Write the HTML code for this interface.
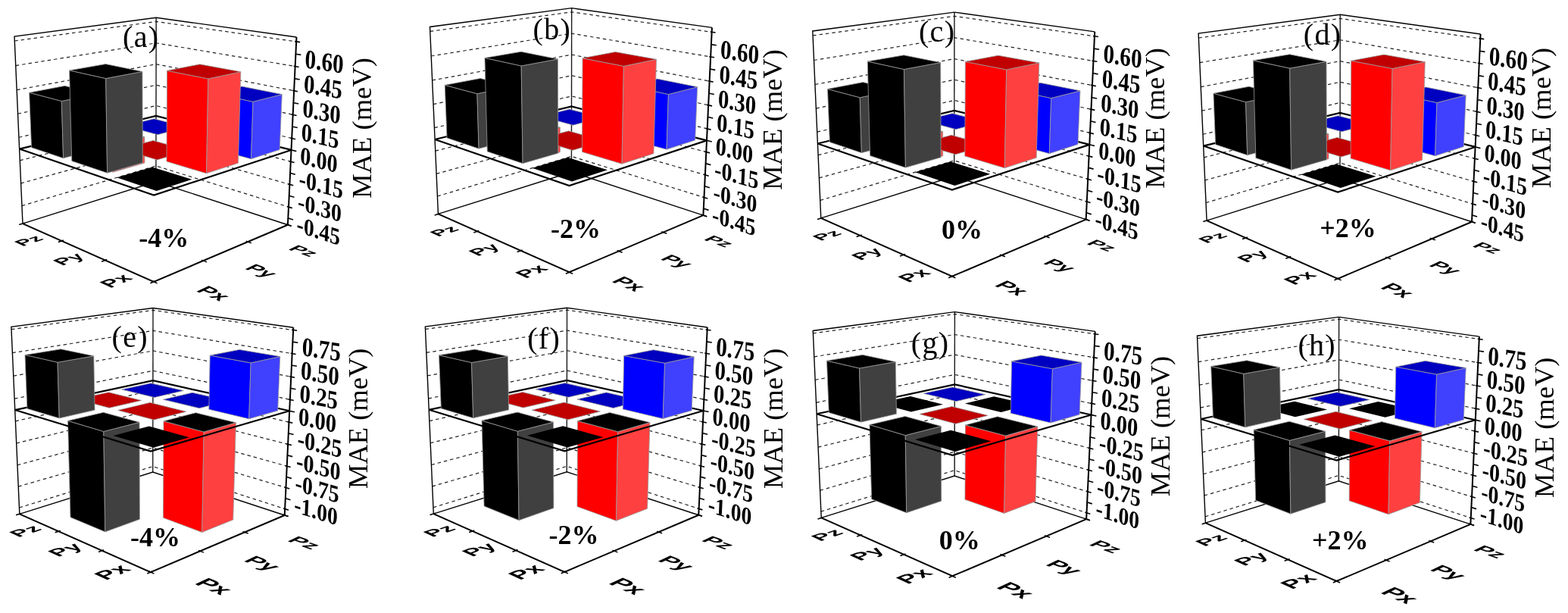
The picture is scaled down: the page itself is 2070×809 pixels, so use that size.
<!DOCTYPE html>
<html><head><meta charset="utf-8"><style>
    html,body{margin:0;padding:0;background:#fff;}
    svg{display:block}
    .g{fill:none;stroke:#222;stroke-width:1.2;stroke-dasharray:4.5 4}
    .w{fill:none;stroke:#000;stroke-width:1.4}
    .wb{fill:none;stroke:#1a1a1a;stroke-width:1.4}
    .z0{fill:none;stroke:#000;stroke-width:2.2;stroke-linejoin:miter}
    .ax{fill:none;stroke:#000;stroke-width:2;stroke-linejoin:miter}
    .tk{stroke:#000;stroke-width:1.6}
    .e{stroke:#9a9a9a;stroke-width:0.8;stroke-linejoin:round}
    .e0{stroke:none}
    text{font-family:"Liberation Serif","Times New Roman",serif;fill:#000}
    .zl{font-size:100px;font-weight:bold}
    .fl{font-family:"Liberation Sans",Arial,sans-serif;font-size:100px;font-weight:bold}
    .tag{font-size:40px;letter-spacing:1.3px}
    .pct{font-size:36px;font-weight:bold}
    .mae{font-size:36.5px}
    </style></head>
<body><svg width="2070" height="809" viewBox="0 0 2070 809">
<g><polyline class="g" points="28.94,271.56 205.92,218.97 381,273.14"/>
<polyline class="g" points="27.63,241.91 205.95,192.83 382.39,243.41"/>
<polyline class="g" points="26.29,211.8 205.99,166.35 383.79,213.21"/>
<polyline class="g" points="24.93,181.23 206.02,139.51 385.22,182.54"/>
<polyline class="g" points="23.55,150.17 206.06,112.3 386.67,151.39"/>
<polyline class="g" points="22.15,118.63 206.09,84.73 388.14,119.75"/>
<polyline class="g" points="20.73,86.58 206.13,56.77 389.64,87.6"/>
<polyline class="g" points="19.29,54.02 206.16,28.42 391.16,54.94"/>
<polyline class="w" points="29.98,295.05 19.02,48.08 206.17,23.26 391.44,48.98"/>
<polyline class="wb" points="205.89,239.71 206.17,23.26"/>
<polyline class="w" points="29.98,295.05 205.89,239.71 379.91,296.71"/>
<polyline class="z0" points="25.61,196.57 206,152.98 384.5,197.94"/>
<polyline class="ax" points="379.91,296.71 391.44,48.98"/>
<line class="tk" x1="379.84" y1="287.69" x2="386.99" y2="289.98"/>
<line class="tk" x1="381.21" y1="258.19" x2="388.4" y2="260.33"/>
<line class="tk" x1="382.61" y1="228.23" x2="389.84" y2="230.22"/>
<line class="tk" x1="384.02" y1="197.81" x2="391.29" y2="199.65"/>
<line class="tk" x1="385.45" y1="166.92" x2="392.77" y2="168.59"/>
<line class="tk" x1="386.91" y1="135.53" x2="394.26" y2="137.04"/>
<line class="tk" x1="388.39" y1="103.65" x2="395.78" y2="104.98"/>
<line class="tk" x1="389.9" y1="71.26" x2="397.31" y2="72.41"/>
<line class="tk" x1="379.09" y1="272.55" x2="385.78" y2="274.62"/>
<line class="tk" x1="380.47" y1="242.86" x2="387.19" y2="244.79"/>
<line class="tk" x1="381.86" y1="212.7" x2="388.63" y2="214.49"/>
<line class="tk" x1="383.28" y1="182.08" x2="390.08" y2="183.71"/>
<line class="tk" x1="384.71" y1="150.97" x2="391.56" y2="152.45"/>
<line class="tk" x1="386.18" y1="119.37" x2="393.05" y2="120.7"/>
<line class="tk" x1="387.67" y1="87.27" x2="394.57" y2="88.43"/>
<line class="tk" x1="389.18" y1="54.65" x2="396.11" y2="55.65"/>
<line class="tk" x1="378.01" y1="296.08" x2="384.66" y2="298.26"/>
<line class="tk" x1="205.3" y1="370.85" x2="198.39" y2="373.79"/>
<line class="tk" x1="141.2" y1="342.48" x2="134.19" y2="345.15"/>
<line class="tk" x1="83.9" y1="317.12" x2="76.81" y2="319.56"/>
<line class="tk" x1="32.37" y1="294.3" x2="25.21" y2="296.55"/>
<line class="tk" x1="200.71" y1="370.82" x2="207.57" y2="373.86"/>
<line class="tk" x1="266.12" y1="343.12" x2="273.09" y2="345.88"/>
<line class="tk" x1="324.72" y1="318.3" x2="331.78" y2="320.83"/>
<line class="tk" x1="377.53" y1="295.93" x2="384.66" y2="298.26"/>
<polygon class="e" fill="#0000C0" points="208.04,177.74 246.13,167.72 203.27,156.76 165.22,166.05"/>
<polygon class="e" fill="#FF0000" points="149.37,227.18 107.15,213.12 106.34,178.92 148.91,191.72"/>
<polygon class="e" fill="#FF4040" points="149.37,227.18 190.93,215.12 190.84,180.74 148.91,191.72"/>
<polygon class="e" fill="#000000" points="148.91,191.72 190.84,180.74 148.06,168.77 106.34,178.92"/>
<polygon class="e0" fill="#000000" points="266.6,193.72 304.6,182.67 257.5,170.63 219.4,180.84"/>
<polygon class="e" fill="#0000FF" points="331.5,209.78 279.19,195.57 280.63,122.95 334.01,134.26"/>
<polygon class="e" fill="#4040FF" points="331.5,209.78 369.19,197.59 372.3,124.57 334.01,134.26"/>
<polygon class="e" fill="#0000C0" points="334.01,134.26 372.3,124.57 319.22,114.04 280.63,122.95"/>
<polygon class="e" fill="#000000" points="83.57,208.81 41.54,194.67 38.62,122.2 81.33,133.45"/>
<polygon class="e" fill="#404040" points="83.57,208.81 129.94,196.68 128.63,123.81 81.33,133.45"/>
<polygon class="e" fill="#000000" points="81.33,133.45 128.63,123.81 85.49,113.33 38.62,122.2"/>
<polygon class="e" fill="#C00000" points="207.39,210.94 249.41,198.72 202.2,185.45 160.25,196.7"/>
<polygon class="e" fill="#000000" points="141.6,228.34 94.79,212.59 91.56,92.88 139.72,103.55"/>
<polygon class="e" fill="#404040" points="141.6,228.34 188.33,214.81 187.95,94.41 139.72,103.55"/>
<polygon class="e" fill="#000000" points="139.72,103.55 187.95,94.41 139.49,84.52 91.56,92.88"/>
<polygon class="e" fill="#FF0000" points="272.51,228.87 219.98,213.08 220.56,93.24 274.8,103.94"/>
<polygon class="e" fill="#FF4040" points="272.51,228.87 314.41,215.31 317.89,94.78 274.8,103.94"/>
<polygon class="e" fill="#C00000" points="274.8,103.94 317.89,94.78 263.8,84.86 220.56,93.24"/>
<polygon class="e0" fill="#000000" points="206.6,252.02 253.43,236.79 200.91,220.4 154.15,234.29"/>
<polyline class="z0" points="25.61,196.57 203.06,257.61 384.5,197.94"/>
<polyline class="ax" points="29.98,295.05 203,371.83 379.91,296.71"/>
<text class="fl" transform="matrix(0.2471 -0.0823 0.1822 0.0844 37.80 317.50)" x="0" y="34.5" text-anchor="middle">Pz</text>
<text class="fl" transform="matrix(0.2504 -0.0914 0.2024 0.0938 90.50 342.00)" x="0" y="34.5" text-anchor="middle">Py</text>
<text class="fl" transform="matrix(0.2526 -0.1027 0.2275 0.1053 153.00 370.50)" x="0" y="34.5" text-anchor="middle">Px</text>
<text class="fl" transform="matrix(0.2626 0.1123 -0.2338 0.1096 282.00 387.20)" x="0" y="34.5" text-anchor="middle">Px</text>
<text class="fl" transform="matrix(0.2604 0.0998 -0.2079 0.0974 345.10 357.30)" x="0" y="34.5" text-anchor="middle">Py</text>
<text class="fl" transform="matrix(0.2572 0.0895 -0.1864 0.0873 400.90 331.10)" x="0" y="34.5" text-anchor="middle">Pz</text>
<text class="zl" transform="matrix(0.2741 0.0879 -0.0157 0.3158 392.08 291.61)" x="0" y="45.0">-0.45</text>
<text class="zl" transform="matrix(0.2765 0.0824 -0.0159 0.3207 393.55 261.87)" x="0" y="45.0">-0.30</text>
<text class="zl" transform="matrix(0.2790 0.0767 -0.0162 0.3257 395.05 231.66)" x="0" y="45.0">-0.15</text>
<text class="zl" transform="matrix(0.2815 0.0709 -0.0164 0.3308 396.58 200.98)" x="0" y="45.0">0.00</text>
<text class="zl" transform="matrix(0.2840 0.0648 -0.0167 0.3361 398.12 169.81)" x="0" y="45.0">0.15</text>
<text class="zl" transform="matrix(0.2866 0.0586 -0.0169 0.3415 399.69 138.15)" x="0" y="45.0">0.30</text>
<text class="zl" transform="matrix(0.2893 0.0521 -0.0172 0.3470 401.29 105.98)" x="0" y="45.0">0.45</text>
<text class="zl" transform="matrix(0.2919 0.0455 -0.0175 0.3526 402.91 73.28)" x="0" y="45.0">0.60</text>
<text class="tag" x="162.1" y="62.3">(a)</text>
<text class="pct" x="183.3" y="326.2">-4%</text>
<text class="mae" transform="translate(489.6 261.7) rotate(-90)">MAE (meV)</text></g><g><polyline class="g" points="577.44,258.96 754.42,206.37 929.5,260.54"/>
<polyline class="g" points="576.13,229.31 754.45,180.23 930.89,230.81"/>
<polyline class="g" points="574.79,199.2 754.49,153.75 932.29,200.61"/>
<polyline class="g" points="573.43,168.63 754.52,126.91 933.72,169.94"/>
<polyline class="g" points="572.05,137.57 754.56,99.7 935.17,138.79"/>
<polyline class="g" points="570.65,106.03 754.59,72.13 936.64,107.15"/>
<polyline class="g" points="569.23,73.98 754.63,44.17 938.14,75"/>
<polyline class="g" points="567.79,41.42 754.66,15.82 939.66,42.34"/>
<polyline class="w" points="578.48,282.45 567.52,35.48 754.67,10.66 939.94,36.38"/>
<polyline class="wb" points="754.39,227.11 754.67,10.66"/>
<polyline class="w" points="578.48,282.45 754.39,227.11 928.41,284.11"/>
<polyline class="z0" points="574.11,183.97 754.5,140.38 933,185.34"/>
<polyline class="ax" points="928.41,284.11 939.94,36.38"/>
<line class="tk" x1="928.34" y1="275.09" x2="935.49" y2="277.38"/>
<line class="tk" x1="929.71" y1="245.59" x2="936.9" y2="247.73"/>
<line class="tk" x1="931.11" y1="215.63" x2="938.34" y2="217.62"/>
<line class="tk" x1="932.52" y1="185.21" x2="939.79" y2="187.05"/>
<line class="tk" x1="933.95" y1="154.32" x2="941.27" y2="155.99"/>
<line class="tk" x1="935.41" y1="122.93" x2="942.76" y2="124.44"/>
<line class="tk" x1="936.89" y1="91.05" x2="944.28" y2="92.38"/>
<line class="tk" x1="938.4" y1="58.66" x2="945.81" y2="59.81"/>
<line class="tk" x1="927.59" y1="259.95" x2="934.28" y2="262.02"/>
<line class="tk" x1="928.97" y1="230.26" x2="935.69" y2="232.19"/>
<line class="tk" x1="930.36" y1="200.1" x2="937.13" y2="201.89"/>
<line class="tk" x1="931.78" y1="169.48" x2="938.58" y2="171.11"/>
<line class="tk" x1="933.21" y1="138.37" x2="940.06" y2="139.85"/>
<line class="tk" x1="934.68" y1="106.77" x2="941.55" y2="108.1"/>
<line class="tk" x1="936.17" y1="74.67" x2="943.07" y2="75.83"/>
<line class="tk" x1="937.68" y1="42.05" x2="944.61" y2="43.05"/>
<line class="tk" x1="926.51" y1="283.48" x2="933.16" y2="285.66"/>
<line class="tk" x1="753.8" y1="358.25" x2="746.89" y2="361.19"/>
<line class="tk" x1="689.7" y1="329.88" x2="682.69" y2="332.55"/>
<line class="tk" x1="632.4" y1="304.52" x2="625.31" y2="306.96"/>
<line class="tk" x1="580.87" y1="281.7" x2="573.71" y2="283.95"/>
<line class="tk" x1="749.21" y1="358.22" x2="756.07" y2="361.26"/>
<line class="tk" x1="814.62" y1="330.52" x2="821.59" y2="333.28"/>
<line class="tk" x1="873.22" y1="305.7" x2="880.28" y2="308.23"/>
<line class="tk" x1="926.03" y1="283.33" x2="933.16" y2="285.66"/>
<polygon class="e" fill="#0000C0" points="756.54,165.14 794.63,155.12 751.77,144.16 713.72,153.45"/>
<polygon class="e" fill="#FF0000" points="697.85,212.8 655.61,198.81 654.84,166.32 697.41,179.12"/>
<polygon class="e" fill="#FF4040" points="697.85,212.8 739.42,200.8 739.34,168.14 697.41,179.12"/>
<polygon class="e" fill="#000000" points="697.41,179.12 739.34,168.14 696.56,156.17 654.84,166.32"/>
<polygon class="e0" fill="#000000" points="815.1,181.12 853.1,170.07 806,158.03 767.9,168.24"/>
<polygon class="e" fill="#0000FF" points="880,197.18 827.69,182.97 829.08,113.09 882.42,124.51"/>
<polygon class="e" fill="#4040FF" points="880,197.18 917.69,184.99 920.68,114.72 882.42,124.51"/>
<polygon class="e" fill="#0000C0" points="882.42,124.51 920.68,114.72 867.65,104.09 829.08,113.09"/>
<polygon class="e" fill="#000000" points="632.07,196.21 590.04,182.07 587.23,112.33 629.91,123.69"/>
<polygon class="e" fill="#404040" points="632.07,196.21 678.44,184.08 677.18,113.96 629.91,123.69"/>
<polygon class="e" fill="#000000" points="629.91,123.69 677.18,113.96 634.06,103.38 587.23,112.33"/>
<polygon class="e" fill="#C00000" points="755.89,198.34 797.91,186.12 750.7,172.85 708.75,184.1"/>
<polygon class="e" fill="#000000" points="690.1,215.74 643.29,199.99 639.96,76.43 688.16,86.94"/>
<polygon class="e" fill="#404040" points="690.1,215.74 736.83,202.21 736.43,77.94 688.16,86.94"/>
<polygon class="e" fill="#000000" points="688.16,86.94 736.43,77.94 687.94,68.21 639.96,76.43"/>
<polygon class="e" fill="#FF0000" points="821.01,216.27 768.48,200.48 769.08,76.79 823.37,87.33"/>
<polygon class="e" fill="#FF4040" points="821.01,216.27 862.91,202.71 866.51,78.3 823.37,87.33"/>
<polygon class="e" fill="#C00000" points="823.37,87.33 866.51,78.3 812.36,68.55 769.08,76.79"/>
<polygon class="e0" fill="#000000" points="755.1,239.42 801.93,224.19 749.41,207.8 702.65,221.69"/>
<polyline class="z0" points="574.11,183.97 751.56,245.01 933,185.34"/>
<polyline class="ax" points="578.48,282.45 751.5,359.23 928.41,284.11"/>
<text class="fl" transform="matrix(0.2471 -0.0823 0.1822 0.0844 586.30 304.90)" x="0" y="34.5" text-anchor="middle">Pz</text>
<text class="fl" transform="matrix(0.2504 -0.0914 0.2024 0.0938 639.00 329.40)" x="0" y="34.5" text-anchor="middle">Py</text>
<text class="fl" transform="matrix(0.2526 -0.1027 0.2275 0.1053 701.50 357.90)" x="0" y="34.5" text-anchor="middle">Px</text>
<text class="fl" transform="matrix(0.2626 0.1123 -0.2338 0.1096 830.50 374.60)" x="0" y="34.5" text-anchor="middle">Px</text>
<text class="fl" transform="matrix(0.2604 0.0998 -0.2079 0.0974 893.60 344.70)" x="0" y="34.5" text-anchor="middle">Py</text>
<text class="fl" transform="matrix(0.2572 0.0895 -0.1864 0.0873 949.40 318.50)" x="0" y="34.5" text-anchor="middle">Pz</text>
<text class="zl" transform="matrix(0.2741 0.0879 -0.0157 0.3158 940.58 279.01)" x="0" y="45.0">-0.45</text>
<text class="zl" transform="matrix(0.2765 0.0824 -0.0159 0.3207 942.05 249.27)" x="0" y="45.0">-0.30</text>
<text class="zl" transform="matrix(0.2790 0.0767 -0.0162 0.3257 943.55 219.06)" x="0" y="45.0">-0.15</text>
<text class="zl" transform="matrix(0.2815 0.0709 -0.0164 0.3308 945.08 188.38)" x="0" y="45.0">0.00</text>
<text class="zl" transform="matrix(0.2840 0.0648 -0.0167 0.3361 946.62 157.21)" x="0" y="45.0">0.15</text>
<text class="zl" transform="matrix(0.2866 0.0586 -0.0169 0.3415 948.19 125.55)" x="0" y="45.0">0.30</text>
<text class="zl" transform="matrix(0.2893 0.0521 -0.0172 0.3470 949.79 93.38)" x="0" y="45.0">0.45</text>
<text class="zl" transform="matrix(0.2919 0.0455 -0.0175 0.3526 951.41 60.68)" x="0" y="45.0">0.60</text>
<text class="tag" x="703.6" y="52.1">(b)</text>
<text class="pct" x="727.0" y="314.4">-2%</text>
<text class="mae" transform="translate(1031.8 250.7) rotate(-90)">MAE (meV)</text></g><g><polyline class="g" points="1082.74,264.46 1259.72,211.87 1434.8,266.04"/>
<polyline class="g" points="1081.43,234.81 1259.75,185.73 1436.19,236.31"/>
<polyline class="g" points="1080.09,204.7 1259.79,159.25 1437.59,206.11"/>
<polyline class="g" points="1078.73,174.13 1259.82,132.41 1439.02,175.44"/>
<polyline class="g" points="1077.35,143.07 1259.86,105.2 1440.47,144.29"/>
<polyline class="g" points="1075.95,111.53 1259.89,77.63 1441.94,112.65"/>
<polyline class="g" points="1074.53,79.48 1259.93,49.67 1443.44,80.5"/>
<polyline class="g" points="1073.09,46.92 1259.96,21.32 1444.96,47.84"/>
<polyline class="w" points="1083.78,287.95 1072.82,40.98 1259.97,16.16 1445.24,41.88"/>
<polyline class="wb" points="1259.69,232.61 1259.97,16.16"/>
<polyline class="w" points="1083.78,287.95 1259.69,232.61 1433.71,289.61"/>
<polyline class="z0" points="1079.41,189.47 1259.8,145.88 1438.3,190.84"/>
<polyline class="ax" points="1433.71,289.61 1445.24,41.88"/>
<line class="tk" x1="1433.64" y1="280.59" x2="1440.79" y2="282.88"/>
<line class="tk" x1="1435.01" y1="251.09" x2="1442.2" y2="253.23"/>
<line class="tk" x1="1436.41" y1="221.13" x2="1443.64" y2="223.12"/>
<line class="tk" x1="1437.82" y1="190.71" x2="1445.09" y2="192.55"/>
<line class="tk" x1="1439.25" y1="159.82" x2="1446.57" y2="161.49"/>
<line class="tk" x1="1440.71" y1="128.43" x2="1448.06" y2="129.94"/>
<line class="tk" x1="1442.19" y1="96.55" x2="1449.58" y2="97.88"/>
<line class="tk" x1="1443.7" y1="64.16" x2="1451.11" y2="65.31"/>
<line class="tk" x1="1432.89" y1="265.45" x2="1439.58" y2="267.52"/>
<line class="tk" x1="1434.27" y1="235.76" x2="1440.99" y2="237.69"/>
<line class="tk" x1="1435.66" y1="205.6" x2="1442.43" y2="207.39"/>
<line class="tk" x1="1437.08" y1="174.98" x2="1443.88" y2="176.61"/>
<line class="tk" x1="1438.51" y1="143.87" x2="1445.36" y2="145.35"/>
<line class="tk" x1="1439.98" y1="112.27" x2="1446.85" y2="113.6"/>
<line class="tk" x1="1441.47" y1="80.17" x2="1448.37" y2="81.33"/>
<line class="tk" x1="1442.98" y1="47.55" x2="1449.91" y2="48.55"/>
<line class="tk" x1="1431.81" y1="288.98" x2="1438.46" y2="291.16"/>
<line class="tk" x1="1259.1" y1="363.75" x2="1252.19" y2="366.69"/>
<line class="tk" x1="1195" y1="335.38" x2="1187.99" y2="338.05"/>
<line class="tk" x1="1137.7" y1="310.02" x2="1130.61" y2="312.46"/>
<line class="tk" x1="1086.17" y1="287.2" x2="1079.01" y2="289.45"/>
<line class="tk" x1="1254.51" y1="363.72" x2="1261.37" y2="366.76"/>
<line class="tk" x1="1319.92" y1="336.02" x2="1326.89" y2="338.78"/>
<line class="tk" x1="1378.52" y1="311.2" x2="1385.58" y2="313.73"/>
<line class="tk" x1="1431.33" y1="288.83" x2="1438.46" y2="291.16"/>
<polygon class="e" fill="#0000C0" points="1261.84,170.64 1299.93,160.62 1257.07,149.66 1219.02,158.95"/>
<polygon class="e" fill="#FF0000" points="1203.14,217.71 1160.9,203.74 1160.14,171.82 1202.71,184.62"/>
<polygon class="e" fill="#FF4040" points="1203.14,217.71 1244.72,205.72 1244.64,173.64 1202.71,184.62"/>
<polygon class="e" fill="#000000" points="1202.71,184.62 1244.64,173.64 1201.86,161.67 1160.14,171.82"/>
<polygon class="e0" fill="#000000" points="1320.4,186.62 1358.4,175.57 1311.3,163.53 1273.2,173.74"/>
<polygon class="e" fill="#0000FF" points="1385.3,202.68 1332.99,188.47 1334.39,118.17 1387.73,129.57"/>
<polygon class="e" fill="#4040FF" points="1385.3,202.68 1422.99,190.49 1426,119.8 1387.73,129.57"/>
<polygon class="e" fill="#0000C0" points="1387.73,129.57 1426,119.8 1372.96,109.18 1334.39,118.17"/>
<polygon class="e" fill="#000000" points="1137.37,201.71 1095.34,187.57 1092.51,117.41 1135.2,128.76"/>
<polygon class="e" fill="#404040" points="1137.37,201.71 1183.74,189.58 1182.47,119.03 1135.2,128.76"/>
<polygon class="e" fill="#000000" points="1135.2,128.76 1182.47,119.03 1139.35,108.47 1092.51,117.41"/>
<polygon class="e" fill="#C00000" points="1261.19,203.84 1303.21,191.62 1256,178.35 1214.05,189.6"/>
<polygon class="e" fill="#000000" points="1195.4,221.24 1148.59,205.49 1145.23,81.03 1193.44,91.49"/>
<polygon class="e" fill="#404040" points="1195.4,221.24 1242.13,207.71 1241.73,82.53 1193.44,91.49"/>
<polygon class="e" fill="#000000" points="1193.44,91.49 1241.73,82.53 1193.22,72.83 1145.23,81.03"/>
<polygon class="e" fill="#FF0000" points="1326.31,221.77 1273.78,205.98 1274.39,81.39 1328.69,91.88"/>
<polygon class="e" fill="#FF4040" points="1326.31,221.77 1368.21,208.21 1371.83,82.89 1328.69,91.88"/>
<polygon class="e" fill="#C00000" points="1328.69,91.88 1371.83,82.89 1317.67,73.17 1274.39,81.39"/>
<polygon class="e0" fill="#000000" points="1260.4,244.92 1307.23,229.69 1254.71,213.3 1207.95,227.19"/>
<polyline class="z0" points="1079.41,189.47 1256.86,250.51 1438.3,190.84"/>
<polyline class="ax" points="1083.78,287.95 1256.8,364.73 1433.71,289.61"/>
<text class="fl" transform="matrix(0.2471 -0.0823 0.1822 0.0844 1091.60 310.40)" x="0" y="34.5" text-anchor="middle">Pz</text>
<text class="fl" transform="matrix(0.2504 -0.0914 0.2024 0.0938 1144.30 334.90)" x="0" y="34.5" text-anchor="middle">Py</text>
<text class="fl" transform="matrix(0.2526 -0.1027 0.2275 0.1053 1206.80 363.40)" x="0" y="34.5" text-anchor="middle">Px</text>
<text class="fl" transform="matrix(0.2626 0.1123 -0.2338 0.1096 1335.80 380.10)" x="0" y="34.5" text-anchor="middle">Px</text>
<text class="fl" transform="matrix(0.2604 0.0998 -0.2079 0.0974 1398.90 350.20)" x="0" y="34.5" text-anchor="middle">Py</text>
<text class="fl" transform="matrix(0.2572 0.0895 -0.1864 0.0873 1454.70 324.00)" x="0" y="34.5" text-anchor="middle">Pz</text>
<text class="zl" transform="matrix(0.2741 0.0879 -0.0157 0.3158 1445.88 284.51)" x="0" y="45.0">-0.45</text>
<text class="zl" transform="matrix(0.2765 0.0824 -0.0159 0.3207 1447.35 254.77)" x="0" y="45.0">-0.30</text>
<text class="zl" transform="matrix(0.2790 0.0767 -0.0162 0.3257 1448.85 224.56)" x="0" y="45.0">-0.15</text>
<text class="zl" transform="matrix(0.2815 0.0709 -0.0164 0.3308 1450.38 193.88)" x="0" y="45.0">0.00</text>
<text class="zl" transform="matrix(0.2840 0.0648 -0.0167 0.3361 1451.92 162.71)" x="0" y="45.0">0.15</text>
<text class="zl" transform="matrix(0.2866 0.0586 -0.0169 0.3415 1453.49 131.05)" x="0" y="45.0">0.30</text>
<text class="zl" transform="matrix(0.2893 0.0521 -0.0172 0.3470 1455.09 98.88)" x="0" y="45.0">0.45</text>
<text class="zl" transform="matrix(0.2919 0.0455 -0.0175 0.3526 1456.71 66.18)" x="0" y="45.0">0.60</text>
<text class="tag" x="1213.0" y="55.2">(c)</text>
<text class="pct" x="1242.9" y="315.3">0%</text>
<text class="mae" transform="translate(1536.8 248.7) rotate(-90)">MAE (meV)</text></g><g><polyline class="g" points="1592.04,267.56 1769.02,214.97 1944.1,269.14"/>
<polyline class="g" points="1590.73,237.91 1769.05,188.83 1945.49,239.41"/>
<polyline class="g" points="1589.39,207.8 1769.09,162.35 1946.89,209.21"/>
<polyline class="g" points="1588.03,177.23 1769.12,135.51 1948.32,178.54"/>
<polyline class="g" points="1586.65,146.17 1769.16,108.3 1949.77,147.39"/>
<polyline class="g" points="1585.25,114.63 1769.19,80.73 1951.24,115.75"/>
<polyline class="g" points="1583.83,82.58 1769.23,52.77 1952.74,83.6"/>
<polyline class="g" points="1582.39,50.02 1769.26,24.42 1954.26,50.94"/>
<polyline class="w" points="1593.08,291.05 1582.12,44.08 1769.27,19.26 1954.54,44.98"/>
<polyline class="wb" points="1768.99,235.71 1769.27,19.26"/>
<polyline class="w" points="1593.08,291.05 1768.99,235.71 1943.01,292.71"/>
<polyline class="z0" points="1588.71,192.57 1769.1,148.98 1947.6,193.94"/>
<polyline class="ax" points="1943.01,292.71 1954.54,44.98"/>
<line class="tk" x1="1942.94" y1="283.69" x2="1950.09" y2="285.98"/>
<line class="tk" x1="1944.31" y1="254.19" x2="1951.5" y2="256.33"/>
<line class="tk" x1="1945.71" y1="224.23" x2="1952.94" y2="226.22"/>
<line class="tk" x1="1947.12" y1="193.81" x2="1954.39" y2="195.65"/>
<line class="tk" x1="1948.55" y1="162.92" x2="1955.87" y2="164.59"/>
<line class="tk" x1="1950.01" y1="131.53" x2="1957.36" y2="133.04"/>
<line class="tk" x1="1951.49" y1="99.65" x2="1958.88" y2="100.98"/>
<line class="tk" x1="1953" y1="67.26" x2="1960.41" y2="68.41"/>
<line class="tk" x1="1942.19" y1="268.55" x2="1948.88" y2="270.62"/>
<line class="tk" x1="1943.57" y1="238.86" x2="1950.29" y2="240.79"/>
<line class="tk" x1="1944.96" y1="208.7" x2="1951.73" y2="210.49"/>
<line class="tk" x1="1946.38" y1="178.08" x2="1953.18" y2="179.71"/>
<line class="tk" x1="1947.81" y1="146.97" x2="1954.66" y2="148.45"/>
<line class="tk" x1="1949.28" y1="115.37" x2="1956.15" y2="116.7"/>
<line class="tk" x1="1950.77" y1="83.27" x2="1957.67" y2="84.43"/>
<line class="tk" x1="1952.28" y1="50.65" x2="1959.21" y2="51.65"/>
<line class="tk" x1="1941.11" y1="292.08" x2="1947.76" y2="294.26"/>
<line class="tk" x1="1768.4" y1="366.85" x2="1761.49" y2="369.79"/>
<line class="tk" x1="1704.3" y1="338.48" x2="1697.29" y2="341.15"/>
<line class="tk" x1="1647" y1="313.12" x2="1639.91" y2="315.56"/>
<line class="tk" x1="1595.47" y1="290.3" x2="1588.31" y2="292.55"/>
<line class="tk" x1="1763.81" y1="366.82" x2="1770.67" y2="369.86"/>
<line class="tk" x1="1829.22" y1="339.12" x2="1836.19" y2="341.88"/>
<line class="tk" x1="1887.82" y1="314.3" x2="1894.88" y2="316.83"/>
<line class="tk" x1="1940.63" y1="291.93" x2="1947.76" y2="294.26"/>
<polygon class="e" fill="#0000C0" points="1771.14,173.74 1809.23,163.72 1766.37,152.76 1728.32,162.05"/>
<polygon class="e" fill="#FF0000" points="1712.45,221.6 1670.22,207.6 1669.44,174.92 1712.01,187.72"/>
<polygon class="e" fill="#FF4040" points="1712.45,221.6 1754.02,209.59 1753.94,176.74 1712.01,187.72"/>
<polygon class="e" fill="#000000" points="1712.01,187.72 1753.94,176.74 1711.16,164.77 1669.44,174.92"/>
<polygon class="e0" fill="#000000" points="1829.7,189.72 1867.7,178.67 1820.6,166.63 1782.5,176.84"/>
<polygon class="e" fill="#0000FF" points="1894.6,205.78 1842.29,191.57 1843.63,124 1896.94,135.52"/>
<polygon class="e" fill="#4040FF" points="1894.6,205.78 1932.29,193.59 1935.18,125.65 1896.94,135.52"/>
<polygon class="e" fill="#0000C0" points="1896.94,135.52 1935.18,125.65 1882.18,114.93 1843.63,124"/>
<polygon class="e" fill="#000000" points="1646.67,204.81 1604.64,190.67 1601.92,123.24 1644.58,134.7"/>
<polygon class="e" fill="#404040" points="1646.67,204.81 1693.04,192.68 1691.82,124.88 1644.58,134.7"/>
<polygon class="e" fill="#000000" points="1644.58,134.7 1691.82,124.88 1648.73,114.21 1601.92,123.24"/>
<polygon class="e" fill="#C00000" points="1770.49,206.94 1812.51,194.72 1765.3,181.45 1723.35,192.7"/>
<polygon class="e" fill="#000000" points="1704.7,224.34 1657.89,208.59 1654.42,79.82 1702.67,90.09"/>
<polygon class="e" fill="#404040" points="1704.7,224.34 1751.43,210.81 1751.02,81.29 1702.67,90.09"/>
<polygon class="e" fill="#000000" points="1702.67,90.09 1751.02,81.29 1702.46,71.78 1654.42,79.82"/>
<polygon class="e" fill="#FF0000" points="1835.61,224.87 1783.08,209.08 1783.71,80.18 1838.07,90.48"/>
<polygon class="e" fill="#FF4040" points="1835.61,224.87 1877.51,211.31 1881.26,81.65 1838.07,90.48"/>
<polygon class="e" fill="#C00000" points="1838.07,90.48 1881.26,81.65 1827.04,72.11 1783.71,80.18"/>
<polygon class="e0" fill="#000000" points="1769.7,248.02 1816.53,232.79 1764.01,216.4 1717.25,230.29"/>
<polyline class="z0" points="1588.71,192.57 1766.16,253.61 1947.6,193.94"/>
<polyline class="ax" points="1593.08,291.05 1766.1,367.83 1943.01,292.71"/>
<text class="fl" transform="matrix(0.2471 -0.0823 0.1822 0.0844 1600.90 313.50)" x="0" y="34.5" text-anchor="middle">Pz</text>
<text class="fl" transform="matrix(0.2504 -0.0914 0.2024 0.0938 1653.60 338.00)" x="0" y="34.5" text-anchor="middle">Py</text>
<text class="fl" transform="matrix(0.2526 -0.1027 0.2275 0.1053 1716.10 366.50)" x="0" y="34.5" text-anchor="middle">Px</text>
<text class="fl" transform="matrix(0.2626 0.1123 -0.2338 0.1096 1845.10 383.20)" x="0" y="34.5" text-anchor="middle">Px</text>
<text class="fl" transform="matrix(0.2604 0.0998 -0.2079 0.0974 1908.20 353.30)" x="0" y="34.5" text-anchor="middle">Py</text>
<text class="fl" transform="matrix(0.2572 0.0895 -0.1864 0.0873 1964.00 327.10)" x="0" y="34.5" text-anchor="middle">Pz</text>
<text class="zl" transform="matrix(0.2741 0.0879 -0.0157 0.3158 1955.18 287.61)" x="0" y="45.0">-0.45</text>
<text class="zl" transform="matrix(0.2765 0.0824 -0.0159 0.3207 1956.65 257.87)" x="0" y="45.0">-0.30</text>
<text class="zl" transform="matrix(0.2790 0.0767 -0.0162 0.3257 1958.15 227.66)" x="0" y="45.0">-0.15</text>
<text class="zl" transform="matrix(0.2815 0.0709 -0.0164 0.3308 1959.68 196.98)" x="0" y="45.0">0.00</text>
<text class="zl" transform="matrix(0.2840 0.0648 -0.0167 0.3361 1961.22 165.81)" x="0" y="45.0">0.15</text>
<text class="zl" transform="matrix(0.2866 0.0586 -0.0169 0.3415 1962.79 134.15)" x="0" y="45.0">0.30</text>
<text class="zl" transform="matrix(0.2893 0.0521 -0.0172 0.3470 1964.39 101.98)" x="0" y="45.0">0.45</text>
<text class="zl" transform="matrix(0.2919 0.0455 -0.0175 0.3526 1966.01 69.28)" x="0" y="45.0">0.60</text>
<text class="tag" x="1720.8" y="58.9">(d)</text>
<text class="pct" x="1742.3" y="313.1">+2%</text>
<text class="mae" transform="translate(2046.8 248.3) rotate(-90)">MAE (meV)</text></g><g><polyline class="g" points="25.46,669.97 201.75,615.6 376.15,671.6"/>
<polyline class="g" points="24.22,642.05 201.78,590.97 377.45,643.6"/>
<polyline class="g" points="22.97,613.72 201.81,566.02 378.77,615.19"/>
<polyline class="g" points="21.69,584.98 201.85,540.75 380.11,586.36"/>
<polyline class="g" points="20.4,555.81 201.88,515.16 381.47,557.1"/>
<polyline class="g" points="19.08,526.2 201.91,489.24 382.86,527.4"/>
<polyline class="g" points="17.75,496.15 201.95,462.98 384.26,497.26"/>
<polyline class="g" points="16.4,465.65 201.98,436.37 385.68,466.66"/>
<polyline class="g" points="15.02,434.68 202.02,409.42 387.13,435.59"/>
<polyline class="w" points="25.83,678.3 14.87,431.33 202.02,406.51 387.29,432.23"/>
<polyline class="wb" points="201.74,622.96 202.02,406.51"/>
<polyline class="w" points="25.83,678.3 201.74,622.96 375.76,679.96"/>
<polyline class="z0" points="19.74,541.06 201.9,502.24 382.16,542.3"/>
<polyline class="ax" points="375.76,679.96 387.29,432.23"/>
<line class="tk" x1="376.32" y1="657.5" x2="383.48" y2="659.72"/>
<line class="tk" x1="377.63" y1="629.3" x2="384.83" y2="631.39"/>
<line class="tk" x1="378.96" y1="600.69" x2="386.2" y2="602.63"/>
<line class="tk" x1="380.31" y1="571.66" x2="387.59" y2="573.44"/>
<line class="tk" x1="381.67" y1="542.2" x2="389" y2="543.82"/>
<line class="tk" x1="383.06" y1="512.29" x2="390.42" y2="513.76"/>
<line class="tk" x1="384.48" y1="481.93" x2="391.86" y2="483.23"/>
<line class="tk" x1="385.91" y1="451.1" x2="393.32" y2="452.24"/>
<line class="tk" x1="374.24" y1="670.99" x2="380.91" y2="673.13"/>
<line class="tk" x1="375.53" y1="643.02" x2="382.24" y2="645.03"/>
<line class="tk" x1="376.84" y1="614.65" x2="383.59" y2="616.52"/>
<line class="tk" x1="378.18" y1="585.86" x2="384.96" y2="587.59"/>
<line class="tk" x1="379.53" y1="556.64" x2="386.34" y2="558.23"/>
<line class="tk" x1="380.9" y1="526.99" x2="387.75" y2="528.43"/>
<line class="tk" x1="382.29" y1="496.89" x2="389.17" y2="498.18"/>
<line class="tk" x1="383.71" y1="466.33" x2="390.62" y2="467.47"/>
<line class="tk" x1="385.15" y1="435.31" x2="392.08" y2="436.29"/>
<line class="tk" x1="373.86" y1="679.33" x2="380.51" y2="681.51"/>
<line class="tk" x1="201.15" y1="754.1" x2="194.24" y2="757.04"/>
<line class="tk" x1="137.05" y1="725.73" x2="130.04" y2="728.4"/>
<line class="tk" x1="79.75" y1="700.37" x2="72.66" y2="702.81"/>
<line class="tk" x1="28.22" y1="677.55" x2="21.06" y2="679.8"/>
<line class="tk" x1="196.56" y1="754.07" x2="203.42" y2="757.11"/>
<line class="tk" x1="261.97" y1="726.37" x2="268.94" y2="729.13"/>
<line class="tk" x1="320.57" y1="701.55" x2="327.63" y2="704.08"/>
<line class="tk" x1="373.38" y1="679.18" x2="380.51" y2="681.51"/>
<polygon class="e" fill="#0000C0" points="203.95,524.47 242.38,515.55 199.14,505.78 160.76,514.06"/>
<polygon class="e" fill="#C00000" points="144.27,538.33 186.6,528.5 143.46,517.78 101.35,526.86"/>
<polygon class="e" fill="#0000C0" points="263.09,538.74 301.42,528.88 253.85,518.14 215.43,527.24"/>
<polygon class="e" fill="#0000FF" points="328.69,552.87 275.81,540.19 277.22,469.07 331.15,478.86"/>
<polygon class="e" fill="#4040FF" points="328.69,552.87 366.69,541.99 369.74,470.48 331.15,478.86"/>
<polygon class="e" fill="#0000C0" points="331.15,478.86 369.74,470.48 316.13,461.38 277.22,469.07"/>
<polygon class="e" fill="#000000" points="78.23,551.98 35.84,539.36 32.98,468.4 76.03,478.13"/>
<polygon class="e" fill="#404040" points="78.23,551.98 125.09,541.16 123.81,469.8 76.03,478.13"/>
<polygon class="e" fill="#000000" points="76.03,478.13 123.81,469.8 80.31,460.74 32.98,468.4"/>
<polygon class="e" fill="#C00000" points="203.31,554.1 245.74,543.2 198.07,531.35 155.71,541.38"/>
<polygon class="e" fill="#000000" points="138.82,701.88 92.98,682.66 89.55,555.35 136.82,569.42"/>
<polygon class="e" fill="#404040" points="138.82,701.88 184.46,685.37 184.05,557.35 136.82,569.42"/>
<polygon class="e" fill="#000000" points="136.82,569.42 184.05,557.35 136.5,544.29 89.55,555.35"/>
<polygon class="e" fill="#FF0000" points="266.71,702.51 215.41,683.24 216.03,555.8 269.14,569.91"/>
<polygon class="e" fill="#FF4040" points="266.71,702.51 307.74,685.96 311.44,557.81 269.14,569.91"/>
<polygon class="e" fill="#000000" points="269.14,569.91 311.44,557.81 258.46,544.72 216.03,555.8"/>
<polygon class="e0" fill="#000000" points="202.51,590.84 249.86,577.21 196.76,562.56 149.49,574.97"/>
<polyline class="z0" points="19.74,541.06 198.94,595.61 382.16,542.3"/>
<polyline class="ax" points="25.83,678.3 198.85,755.08 375.76,679.96"/>
<text class="fl" transform="matrix(0.2744 -0.0913 0.2022 0.0937 33.35 700.75)" x="0" y="34.5" text-anchor="middle">Pz</text>
<text class="fl" transform="matrix(0.2782 -0.1016 0.2248 0.1042 86.05 725.55)" x="0" y="34.5" text-anchor="middle">Py</text>
<text class="fl" transform="matrix(0.2812 -0.1145 0.2530 0.1174 148.25 754.95)" x="0" y="34.5" text-anchor="middle">Px</text>
<text class="fl" transform="matrix(0.2945 0.1263 -0.2600 0.1232 282.65 773.75)" x="0" y="34.5" text-anchor="middle">Px</text>
<text class="fl" transform="matrix(0.2919 0.1121 -0.2309 0.1093 346.35 743.45)" x="0" y="34.5" text-anchor="middle">Py</text>
<text class="fl" transform="matrix(0.2877 0.1002 -0.2066 0.0976 401.85 716.25)" x="0" y="34.5" text-anchor="middle">Pz</text>
<text class="zl" transform="matrix(0.2752 0.0854 -0.0158 0.3180 388.60 661.31)" x="0" y="45.0">-1.00</text>
<text class="zl" transform="matrix(0.2775 0.0801 -0.0160 0.3227 390.01 632.88)" x="0" y="45.0">-0.75</text>
<text class="zl" transform="matrix(0.2798 0.0747 -0.0163 0.3275 391.44 604.03)" x="0" y="45.0">-0.50</text>
<text class="zl" transform="matrix(0.2822 0.0691 -0.0165 0.3324 392.90 574.74)" x="0" y="45.0">-0.25</text>
<text class="zl" transform="matrix(0.2847 0.0633 -0.0167 0.3374 394.37 545.02)" x="0" y="45.0">0.00</text>
<text class="zl" transform="matrix(0.2871 0.0573 -0.0170 0.3426 395.87 514.84)" x="0" y="45.0">0.25</text>
<text class="zl" transform="matrix(0.2897 0.0511 -0.0173 0.3478 397.39 484.21)" x="0" y="45.0">0.50</text>
<text class="zl" transform="matrix(0.2922 0.0448 -0.0175 0.3532 398.93 453.10)" x="0" y="45.0">0.75</text>
<text class="tag" x="147.6" y="458.2">(e)</text>
<text class="pct" x="172.0" y="720.8">-4%</text>
<text class="mae" transform="translate(485.4 645.1) rotate(-90)">MAE (meV)</text></g><g><polyline class="g" points="571.96,669.72 748.25,615.35 922.65,671.35"/>
<polyline class="g" points="570.72,641.8 748.28,590.72 923.95,643.35"/>
<polyline class="g" points="569.47,613.47 748.31,565.77 925.27,614.94"/>
<polyline class="g" points="568.19,584.73 748.35,540.5 926.61,586.11"/>
<polyline class="g" points="566.9,555.56 748.38,514.91 927.97,556.85"/>
<polyline class="g" points="565.58,525.95 748.41,488.99 929.36,527.15"/>
<polyline class="g" points="564.25,495.9 748.45,462.73 930.76,497.01"/>
<polyline class="g" points="562.9,465.4 748.48,436.12 932.18,466.41"/>
<polyline class="g" points="561.52,434.43 748.52,409.17 933.63,435.34"/>
<polyline class="w" points="572.33,678.05 561.37,431.08 748.52,406.26 933.79,431.98"/>
<polyline class="wb" points="748.24,622.71 748.52,406.26"/>
<polyline class="w" points="572.33,678.05 748.24,622.71 922.26,679.71"/>
<polyline class="z0" points="566.24,540.81 748.4,501.99 928.66,542.05"/>
<polyline class="ax" points="922.26,679.71 933.79,431.98"/>
<line class="tk" x1="922.82" y1="657.25" x2="929.98" y2="659.47"/>
<line class="tk" x1="924.13" y1="629.05" x2="931.33" y2="631.14"/>
<line class="tk" x1="925.46" y1="600.44" x2="932.7" y2="602.38"/>
<line class="tk" x1="926.81" y1="571.41" x2="934.09" y2="573.19"/>
<line class="tk" x1="928.17" y1="541.95" x2="935.5" y2="543.57"/>
<line class="tk" x1="929.56" y1="512.04" x2="936.92" y2="513.51"/>
<line class="tk" x1="930.98" y1="481.68" x2="938.36" y2="482.98"/>
<line class="tk" x1="932.41" y1="450.85" x2="939.82" y2="451.99"/>
<line class="tk" x1="920.74" y1="670.74" x2="927.41" y2="672.88"/>
<line class="tk" x1="922.03" y1="642.77" x2="928.74" y2="644.78"/>
<line class="tk" x1="923.34" y1="614.4" x2="930.09" y2="616.27"/>
<line class="tk" x1="924.68" y1="585.61" x2="931.46" y2="587.34"/>
<line class="tk" x1="926.03" y1="556.39" x2="932.84" y2="557.98"/>
<line class="tk" x1="927.4" y1="526.74" x2="934.25" y2="528.18"/>
<line class="tk" x1="928.79" y1="496.64" x2="935.67" y2="497.93"/>
<line class="tk" x1="930.21" y1="466.08" x2="937.12" y2="467.22"/>
<line class="tk" x1="931.65" y1="435.06" x2="938.58" y2="436.04"/>
<line class="tk" x1="920.36" y1="679.08" x2="927.01" y2="681.26"/>
<line class="tk" x1="747.65" y1="753.85" x2="740.74" y2="756.79"/>
<line class="tk" x1="683.55" y1="725.48" x2="676.54" y2="728.15"/>
<line class="tk" x1="626.25" y1="700.12" x2="619.16" y2="702.56"/>
<line class="tk" x1="574.72" y1="677.3" x2="567.56" y2="679.55"/>
<line class="tk" x1="743.06" y1="753.82" x2="749.92" y2="756.86"/>
<line class="tk" x1="808.47" y1="726.12" x2="815.44" y2="728.88"/>
<line class="tk" x1="867.07" y1="701.3" x2="874.13" y2="703.83"/>
<line class="tk" x1="919.88" y1="678.93" x2="927.01" y2="681.26"/>
<polygon class="e" fill="#0000C0" points="750.45,524.22 788.88,515.3 745.64,505.53 707.26,513.81"/>
<polygon class="e" fill="#C00000" points="690.77,538.08 733.1,528.25 689.96,517.53 647.85,526.61"/>
<polygon class="e" fill="#0000C0" points="809.59,538.49 847.92,528.63 800.35,517.89 761.93,526.99"/>
<polygon class="e" fill="#0000FF" points="875.19,552.62 822.31,539.94 823.71,469.43 877.62,479.24"/>
<polygon class="e" fill="#4040FF" points="875.19,552.62 913.19,541.74 916.22,470.84 877.62,479.24"/>
<polygon class="e" fill="#0000C0" points="877.62,479.24 916.22,470.84 862.61,461.72 823.71,469.43"/>
<polygon class="e" fill="#000000" points="624.73,551.73 582.34,539.11 579.5,468.76 622.55,478.51"/>
<polygon class="e" fill="#404040" points="624.73,551.73 671.59,540.91 670.32,470.16 622.55,478.51"/>
<polygon class="e" fill="#000000" points="622.55,478.51 670.32,470.16 626.83,461.08 579.5,468.76"/>
<polygon class="e" fill="#C00000" points="749.81,553.85 792.24,542.95 744.57,531.1 702.21,541.13"/>
<polygon class="e" fill="#000000" points="685.09,686.64 639.09,667.98 636.05,555.1 683.32,569.17"/>
<polygon class="e" fill="#404040" points="685.09,686.64 730.91,670.61 730.55,557.1 683.32,569.17"/>
<polygon class="e" fill="#000000" points="683.32,569.17 730.55,557.1 683,544.04 636.05,555.1"/>
<polygon class="e" fill="#FF0000" points="813.48,687.25 761.98,668.55 762.53,555.55 815.64,569.66"/>
<polygon class="e" fill="#FF4040" points="813.48,687.25 854.65,671.19 857.94,557.56 815.64,569.66"/>
<polygon class="e" fill="#000000" points="815.64,569.66 857.94,557.56 804.96,544.47 762.53,555.55"/>
<polygon class="e0" fill="#000000" points="749.01,590.59 796.36,576.96 743.26,562.31 695.99,574.72"/>
<polyline class="z0" points="566.24,540.81 745.44,595.36 928.66,542.05"/>
<polyline class="ax" points="572.33,678.05 745.35,754.83 922.26,679.71"/>
<text class="fl" transform="matrix(0.2744 -0.0913 0.2022 0.0937 579.85 700.50)" x="0" y="34.5" text-anchor="middle">Pz</text>
<text class="fl" transform="matrix(0.2782 -0.1016 0.2248 0.1042 632.55 725.30)" x="0" y="34.5" text-anchor="middle">Py</text>
<text class="fl" transform="matrix(0.2812 -0.1145 0.2530 0.1174 694.75 754.70)" x="0" y="34.5" text-anchor="middle">Px</text>
<text class="fl" transform="matrix(0.2945 0.1263 -0.2600 0.1232 829.15 773.50)" x="0" y="34.5" text-anchor="middle">Px</text>
<text class="fl" transform="matrix(0.2919 0.1121 -0.2309 0.1093 892.85 743.20)" x="0" y="34.5" text-anchor="middle">Py</text>
<text class="fl" transform="matrix(0.2877 0.1002 -0.2066 0.0976 948.35 716.00)" x="0" y="34.5" text-anchor="middle">Pz</text>
<text class="zl" transform="matrix(0.2752 0.0854 -0.0158 0.3180 935.10 661.06)" x="0" y="45.0">-1.00</text>
<text class="zl" transform="matrix(0.2775 0.0801 -0.0160 0.3227 936.51 632.63)" x="0" y="45.0">-0.75</text>
<text class="zl" transform="matrix(0.2798 0.0747 -0.0163 0.3275 937.94 603.78)" x="0" y="45.0">-0.50</text>
<text class="zl" transform="matrix(0.2822 0.0691 -0.0165 0.3324 939.40 574.49)" x="0" y="45.0">-0.25</text>
<text class="zl" transform="matrix(0.2847 0.0633 -0.0167 0.3374 940.87 544.77)" x="0" y="45.0">0.00</text>
<text class="zl" transform="matrix(0.2871 0.0573 -0.0170 0.3426 942.37 514.59)" x="0" y="45.0">0.25</text>
<text class="zl" transform="matrix(0.2897 0.0511 -0.0173 0.3478 943.89 483.96)" x="0" y="45.0">0.50</text>
<text class="zl" transform="matrix(0.2922 0.0448 -0.0175 0.3532 945.43 452.85)" x="0" y="45.0">0.75</text>
<text class="tag" x="696.2" y="459.8">(f)</text>
<text class="pct" x="724.5" y="717.7">-2%</text>
<text class="mae" transform="translate(1033.3 645.1) rotate(-90)">MAE (meV)</text></g><g><polyline class="g" points="1083.86,675.12 1260.15,620.75 1434.55,676.75"/>
<polyline class="g" points="1082.62,647.2 1260.18,596.12 1435.85,648.75"/>
<polyline class="g" points="1081.37,618.87 1260.21,571.17 1437.17,620.34"/>
<polyline class="g" points="1080.09,590.13 1260.25,545.9 1438.51,591.51"/>
<polyline class="g" points="1078.8,560.96 1260.28,520.31 1439.87,562.25"/>
<polyline class="g" points="1077.48,531.35 1260.31,494.39 1441.26,532.55"/>
<polyline class="g" points="1076.15,501.3 1260.35,468.13 1442.66,502.41"/>
<polyline class="g" points="1074.8,470.8 1260.38,441.52 1444.08,471.81"/>
<polyline class="g" points="1073.42,439.83 1260.42,414.57 1445.53,440.74"/>
<polyline class="w" points="1084.23,683.45 1073.27,436.48 1260.42,411.66 1445.69,437.38"/>
<polyline class="wb" points="1260.14,628.11 1260.42,411.66"/>
<polyline class="w" points="1084.23,683.45 1260.14,628.11 1434.16,685.11"/>
<polyline class="z0" points="1078.14,546.21 1260.3,507.39 1440.56,547.45"/>
<polyline class="ax" points="1434.16,685.11 1445.69,437.38"/>
<line class="tk" x1="1434.72" y1="662.65" x2="1441.88" y2="664.87"/>
<line class="tk" x1="1436.03" y1="634.45" x2="1443.23" y2="636.54"/>
<line class="tk" x1="1437.36" y1="605.84" x2="1444.6" y2="607.78"/>
<line class="tk" x1="1438.71" y1="576.81" x2="1445.99" y2="578.59"/>
<line class="tk" x1="1440.07" y1="547.35" x2="1447.4" y2="548.97"/>
<line class="tk" x1="1441.46" y1="517.44" x2="1448.82" y2="518.91"/>
<line class="tk" x1="1442.88" y1="487.08" x2="1450.26" y2="488.38"/>
<line class="tk" x1="1444.31" y1="456.25" x2="1451.72" y2="457.39"/>
<line class="tk" x1="1432.64" y1="676.14" x2="1439.31" y2="678.28"/>
<line class="tk" x1="1433.93" y1="648.17" x2="1440.64" y2="650.18"/>
<line class="tk" x1="1435.24" y1="619.8" x2="1441.99" y2="621.67"/>
<line class="tk" x1="1436.58" y1="591.01" x2="1443.36" y2="592.74"/>
<line class="tk" x1="1437.93" y1="561.79" x2="1444.74" y2="563.38"/>
<line class="tk" x1="1439.3" y1="532.14" x2="1446.15" y2="533.58"/>
<line class="tk" x1="1440.69" y1="502.04" x2="1447.57" y2="503.33"/>
<line class="tk" x1="1442.11" y1="471.48" x2="1449.02" y2="472.62"/>
<line class="tk" x1="1443.55" y1="440.46" x2="1450.48" y2="441.44"/>
<line class="tk" x1="1432.26" y1="684.48" x2="1438.91" y2="686.66"/>
<line class="tk" x1="1259.55" y1="759.25" x2="1252.64" y2="762.19"/>
<line class="tk" x1="1195.45" y1="730.88" x2="1188.44" y2="733.55"/>
<line class="tk" x1="1138.15" y1="705.52" x2="1131.06" y2="707.96"/>
<line class="tk" x1="1086.62" y1="682.7" x2="1079.46" y2="684.95"/>
<line class="tk" x1="1254.96" y1="759.22" x2="1261.82" y2="762.26"/>
<line class="tk" x1="1320.37" y1="731.52" x2="1327.34" y2="734.28"/>
<line class="tk" x1="1378.97" y1="706.7" x2="1386.03" y2="709.23"/>
<line class="tk" x1="1431.78" y1="684.33" x2="1438.91" y2="686.66"/>
<polygon class="e" fill="#0000C0" points="1262.35,529.62 1300.78,520.7 1257.54,510.93 1219.16,519.21"/>
<polygon class="e0" fill="#000000" points="1202.67,543.48 1245,533.65 1201.86,522.93 1159.75,532.01"/>
<polygon class="e0" fill="#000000" points="1321.49,543.89 1359.82,534.03 1312.25,523.29 1273.83,532.39"/>
<polygon class="e" fill="#0000FF" points="1387.09,558.02 1334.21,545.34 1335.57,476.79 1389.46,486.68"/>
<polygon class="e" fill="#4040FF" points="1387.09,558.02 1425.09,547.14 1428.03,478.21 1389.46,486.68"/>
<polygon class="e" fill="#0000C0" points="1389.46,486.68 1428.03,478.21 1374.46,469.01 1335.57,476.79"/>
<polygon class="e" fill="#000000" points="1136.63,557.13 1094.24,544.51 1091.48,476.11 1134.51,485.95"/>
<polygon class="e" fill="#404040" points="1136.63,557.13 1183.49,546.31 1182.25,477.52 1134.51,485.95"/>
<polygon class="e" fill="#000000" points="1134.51,485.95 1182.25,477.52 1138.78,468.37 1091.48,476.11"/>
<polygon class="e" fill="#C00000" points="1261.71,559.25 1304.14,548.35 1256.47,536.5 1214.11,546.53"/>
<polygon class="e" fill="#000000" points="1196.76,676.8 1150.6,658.73 1147.95,560.5 1195.22,574.57"/>
<polygon class="e" fill="#404040" points="1196.76,676.8 1242.76,661.28 1242.45,562.5 1195.22,574.57"/>
<polygon class="e" fill="#000000" points="1195.22,574.57 1242.45,562.5 1194.9,549.44 1147.95,560.5"/>
<polygon class="e" fill="#FF0000" points="1325.66,677.4 1273.95,659.28 1274.43,560.95 1327.54,575.06"/>
<polygon class="e" fill="#FF4040" points="1325.66,677.4 1366.98,661.84 1369.84,562.96 1327.54,575.06"/>
<polygon class="e" fill="#000000" points="1327.54,575.06 1369.84,562.96 1316.86,549.87 1274.43,560.95"/>
<polygon class="e0" fill="#000000" points="1260.91,595.99 1308.26,582.36 1255.16,567.71 1207.89,580.12"/>
<polyline class="z0" points="1078.14,546.21 1257.34,600.76 1440.56,547.45"/>
<polyline class="ax" points="1084.23,683.45 1257.25,760.23 1434.16,685.11"/>
<text class="fl" transform="matrix(0.2744 -0.0913 0.2022 0.0937 1091.75 705.90)" x="0" y="34.5" text-anchor="middle">Pz</text>
<text class="fl" transform="matrix(0.2782 -0.1016 0.2248 0.1042 1144.45 730.70)" x="0" y="34.5" text-anchor="middle">Py</text>
<text class="fl" transform="matrix(0.2812 -0.1145 0.2530 0.1174 1206.65 760.10)" x="0" y="34.5" text-anchor="middle">Px</text>
<text class="fl" transform="matrix(0.2945 0.1263 -0.2600 0.1232 1341.05 778.90)" x="0" y="34.5" text-anchor="middle">Px</text>
<text class="fl" transform="matrix(0.2919 0.1121 -0.2309 0.1093 1404.75 748.60)" x="0" y="34.5" text-anchor="middle">Py</text>
<text class="fl" transform="matrix(0.2877 0.1002 -0.2066 0.0976 1460.25 721.40)" x="0" y="34.5" text-anchor="middle">Pz</text>
<text class="zl" transform="matrix(0.2752 0.0854 -0.0158 0.3180 1447.00 666.46)" x="0" y="45.0">-1.00</text>
<text class="zl" transform="matrix(0.2775 0.0801 -0.0160 0.3227 1448.41 638.03)" x="0" y="45.0">-0.75</text>
<text class="zl" transform="matrix(0.2798 0.0747 -0.0163 0.3275 1449.84 609.18)" x="0" y="45.0">-0.50</text>
<text class="zl" transform="matrix(0.2822 0.0691 -0.0165 0.3324 1451.30 579.89)" x="0" y="45.0">-0.25</text>
<text class="zl" transform="matrix(0.2847 0.0633 -0.0167 0.3374 1452.77 550.17)" x="0" y="45.0">0.00</text>
<text class="zl" transform="matrix(0.2871 0.0573 -0.0170 0.3426 1454.27 519.99)" x="0" y="45.0">0.25</text>
<text class="zl" transform="matrix(0.2897 0.0511 -0.0173 0.3478 1455.79 489.36)" x="0" y="45.0">0.50</text>
<text class="zl" transform="matrix(0.2922 0.0448 -0.0175 0.3532 1457.33 458.25)" x="0" y="45.0">0.75</text>
<text class="tag" x="1202.8" y="465.8">(g)</text>
<text class="pct" x="1239.7" y="725.1">0%</text>
<text class="mae" transform="translate(1544.3 655.3) rotate(-90)">MAE (meV)</text></g><g><polyline class="g" points="1591.06,681.87 1767.35,627.5 1941.75,683.5"/>
<polyline class="g" points="1589.82,653.95 1767.38,602.87 1943.05,655.5"/>
<polyline class="g" points="1588.57,625.62 1767.41,577.92 1944.37,627.09"/>
<polyline class="g" points="1587.29,596.88 1767.45,552.65 1945.71,598.26"/>
<polyline class="g" points="1586,567.71 1767.48,527.06 1947.07,569"/>
<polyline class="g" points="1584.68,538.1 1767.51,501.14 1948.46,539.3"/>
<polyline class="g" points="1583.35,508.05 1767.55,474.88 1949.86,509.16"/>
<polyline class="g" points="1582,477.55 1767.58,448.27 1951.28,478.56"/>
<polyline class="g" points="1580.62,446.58 1767.62,421.32 1952.73,447.49"/>
<polyline class="w" points="1591.43,690.2 1580.47,443.23 1767.62,418.41 1952.89,444.13"/>
<polyline class="wb" points="1767.34,634.86 1767.62,418.41"/>
<polyline class="w" points="1591.43,690.2 1767.34,634.86 1941.36,691.86"/>
<polyline class="z0" points="1585.34,552.96 1767.5,514.14 1947.76,554.2"/>
<polyline class="ax" points="1941.36,691.86 1952.89,444.13"/>
<line class="tk" x1="1941.92" y1="669.4" x2="1949.08" y2="671.62"/>
<line class="tk" x1="1943.23" y1="641.2" x2="1950.43" y2="643.29"/>
<line class="tk" x1="1944.56" y1="612.59" x2="1951.8" y2="614.53"/>
<line class="tk" x1="1945.91" y1="583.56" x2="1953.19" y2="585.34"/>
<line class="tk" x1="1947.27" y1="554.1" x2="1954.6" y2="555.72"/>
<line class="tk" x1="1948.66" y1="524.19" x2="1956.02" y2="525.66"/>
<line class="tk" x1="1950.08" y1="493.83" x2="1957.46" y2="495.13"/>
<line class="tk" x1="1951.51" y1="463" x2="1958.92" y2="464.14"/>
<line class="tk" x1="1939.84" y1="682.89" x2="1946.51" y2="685.03"/>
<line class="tk" x1="1941.13" y1="654.92" x2="1947.84" y2="656.93"/>
<line class="tk" x1="1942.44" y1="626.55" x2="1949.19" y2="628.42"/>
<line class="tk" x1="1943.78" y1="597.76" x2="1950.56" y2="599.49"/>
<line class="tk" x1="1945.13" y1="568.54" x2="1951.94" y2="570.13"/>
<line class="tk" x1="1946.5" y1="538.89" x2="1953.35" y2="540.33"/>
<line class="tk" x1="1947.89" y1="508.79" x2="1954.77" y2="510.08"/>
<line class="tk" x1="1949.31" y1="478.23" x2="1956.22" y2="479.37"/>
<line class="tk" x1="1950.75" y1="447.21" x2="1957.68" y2="448.19"/>
<line class="tk" x1="1939.46" y1="691.23" x2="1946.11" y2="693.41"/>
<line class="tk" x1="1766.75" y1="766" x2="1759.84" y2="768.94"/>
<line class="tk" x1="1702.65" y1="737.63" x2="1695.64" y2="740.3"/>
<line class="tk" x1="1645.35" y1="712.27" x2="1638.26" y2="714.71"/>
<line class="tk" x1="1593.82" y1="689.45" x2="1586.66" y2="691.7"/>
<line class="tk" x1="1762.16" y1="765.97" x2="1769.02" y2="769.01"/>
<line class="tk" x1="1827.57" y1="738.27" x2="1834.54" y2="741.03"/>
<line class="tk" x1="1886.17" y1="713.45" x2="1893.23" y2="715.98"/>
<line class="tk" x1="1938.98" y1="691.08" x2="1946.11" y2="693.41"/>
<polygon class="e" fill="#0000C0" points="1769.55,536.37 1807.98,527.45 1764.74,517.68 1726.36,525.96"/>
<polygon class="e0" fill="#000000" points="1709.87,550.23 1752.2,540.4 1709.06,529.68 1666.95,538.76"/>
<polygon class="e0" fill="#000000" points="1828.69,550.64 1867.02,540.78 1819.45,530.04 1781.03,539.14"/>
<polygon class="e" fill="#0000FF" points="1894.29,564.77 1841.41,552.09 1842.76,484.15 1896.64,494.06"/>
<polygon class="e" fill="#4040FF" points="1894.29,564.77 1932.29,553.89 1935.21,485.57 1896.64,494.06"/>
<polygon class="e" fill="#0000C0" points="1896.64,494.06 1935.21,485.57 1881.64,476.35 1842.76,484.15"/>
<polygon class="e" fill="#000000" points="1643.83,563.88 1601.44,551.26 1598.7,483.47 1641.73,493.33"/>
<polygon class="e" fill="#404040" points="1643.83,563.88 1690.69,553.06 1689.47,484.89 1641.73,493.33"/>
<polygon class="e" fill="#000000" points="1641.73,493.33 1689.47,484.89 1646,475.71 1598.7,483.47"/>
<polygon class="e" fill="#C00000" points="1768.91,566 1811.34,555.1 1763.67,543.25 1721.31,553.28"/>
<polygon class="e" fill="#000000" points="1703.88,678.16 1657.66,660.29 1655.15,567.25 1702.42,581.32"/>
<polygon class="e" fill="#404040" points="1703.88,678.16 1749.95,662.81 1749.65,569.25 1702.42,581.32"/>
<polygon class="e" fill="#000000" points="1702.42,581.32 1749.65,569.25 1702.1,556.19 1655.15,567.25"/>
<polygon class="e" fill="#FF0000" points="1832.96,678.76 1781.17,660.84 1781.63,567.7 1834.74,581.81"/>
<polygon class="e" fill="#FF4040" points="1832.96,678.76 1874.33,663.37 1877.04,569.71 1834.74,581.81"/>
<polygon class="e" fill="#000000" points="1834.74,581.81 1877.04,569.71 1824.06,556.62 1781.63,567.7"/>
<polygon class="e0" fill="#000000" points="1768.11,602.74 1815.46,589.11 1762.36,574.46 1715.09,586.87"/>
<polyline class="z0" points="1585.34,552.96 1764.54,607.51 1947.76,554.2"/>
<polyline class="ax" points="1591.43,690.2 1764.45,766.98 1941.36,691.86"/>
<text class="fl" transform="matrix(0.2744 -0.0913 0.2022 0.0937 1598.95 712.65)" x="0" y="34.5" text-anchor="middle">Pz</text>
<text class="fl" transform="matrix(0.2782 -0.1016 0.2248 0.1042 1651.65 737.45)" x="0" y="34.5" text-anchor="middle">Py</text>
<text class="fl" transform="matrix(0.2812 -0.1145 0.2530 0.1174 1713.85 766.85)" x="0" y="34.5" text-anchor="middle">Px</text>
<text class="fl" transform="matrix(0.2945 0.1263 -0.2600 0.1232 1848.25 785.65)" x="0" y="34.5" text-anchor="middle">Px</text>
<text class="fl" transform="matrix(0.2919 0.1121 -0.2309 0.1093 1911.95 755.35)" x="0" y="34.5" text-anchor="middle">Py</text>
<text class="fl" transform="matrix(0.2877 0.1002 -0.2066 0.0976 1967.45 728.15)" x="0" y="34.5" text-anchor="middle">Pz</text>
<text class="zl" transform="matrix(0.2752 0.0854 -0.0158 0.3180 1954.20 673.21)" x="0" y="45.0">-1.00</text>
<text class="zl" transform="matrix(0.2775 0.0801 -0.0160 0.3227 1955.61 644.78)" x="0" y="45.0">-0.75</text>
<text class="zl" transform="matrix(0.2798 0.0747 -0.0163 0.3275 1957.04 615.93)" x="0" y="45.0">-0.50</text>
<text class="zl" transform="matrix(0.2822 0.0691 -0.0165 0.3324 1958.50 586.64)" x="0" y="45.0">-0.25</text>
<text class="zl" transform="matrix(0.2847 0.0633 -0.0167 0.3374 1959.97 556.92)" x="0" y="45.0">0.00</text>
<text class="zl" transform="matrix(0.2871 0.0573 -0.0170 0.3426 1961.47 526.74)" x="0" y="45.0">0.25</text>
<text class="zl" transform="matrix(0.2897 0.0511 -0.0173 0.3478 1962.99 496.11)" x="0" y="45.0">0.50</text>
<text class="zl" transform="matrix(0.2922 0.0448 -0.0175 0.3532 1964.53 465.00)" x="0" y="45.0">0.75</text>
<text class="tag" x="1713.4" y="469.1">(h)</text>
<text class="pct" x="1732.0" y="724.6">+2%</text>
<text class="mae" transform="translate(2050.6 657.1) rotate(-90)">MAE (meV)</text></g>
</svg></body></html>
